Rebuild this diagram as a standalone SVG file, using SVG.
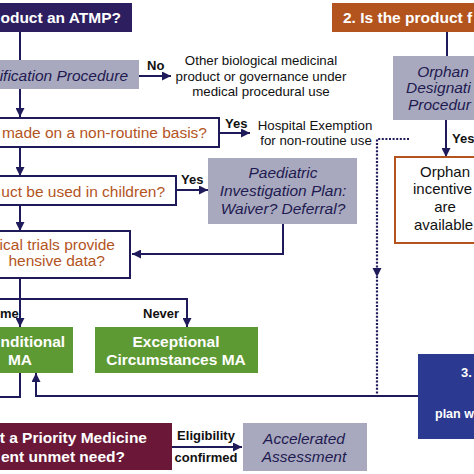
<svg xmlns="http://www.w3.org/2000/svg" width="474" height="474" viewBox="0 0 474 474">
<defs>
<marker id="ah" markerWidth="10" markerHeight="9" refX="9" refY="4.5" orient="auto" markerUnits="userSpaceOnUse"><path d="M0,0 L9,4.5 L0,9 z" fill="#1f1a5a"/></marker>
</defs>
<style>
text{font-family:"Liberation Sans",Arial,sans-serif;font-size:15.5px;}
.b{font-weight:bold;}
.w{fill:#ffffff;}
.i{font-style:italic;fill:#1f1a50;}
.o{fill:#b3541e;}
.k{fill:#111111;font-size:13.3px;}
.kb{fill:#111111;font-size:13px;font-weight:bold;}
.ln{fill:none;stroke:#1f1a5a;stroke-width:2;}
.dot{fill:none;stroke:#1f1a5a;stroke-width:2.2;stroke-dasharray:2 1.6;}
.q{fill:#ffffff;stroke:#1f1a5a;stroke-width:2;}
.g{fill:#a8a9bf;}
.gr{fill:#5e9a33;}
.oi{fill:#111111;font-size:15px;}
</style>
<rect width="474" height="474" fill="#ffffff"/>

<g id="connectors">
<path class="ln" d="M20,32 V60"/>
<path class="ln" d="M20,89 V117" marker-end="url(#ah)"/>
<path class="ln" d="M139,76 H171" marker-end="url(#ah)"/>
<path class="ln" d="M219,133 H250" marker-end="url(#ah)"/>
<path class="ln" d="M20,147 V176" marker-end="url(#ah)"/>
<path class="ln" d="M176,190 H208" marker-end="url(#ah)"/>
<path class="ln" d="M20,205 V231" marker-end="url(#ah)"/>
<path class="ln" d="M283,224 V254 H132" marker-end="url(#ah)"/>
<path class="ln" d="M20,278 V327" marker-end="url(#ah)"/>
<path class="ln" d="M0,299 H187 V327" marker-end="url(#ah)"/>
<path class="ln" d="M20,373 V397 H0"/>
<path class="ln" d="M418,396 H36 V373" marker-end="url(#ah)"/>
<path class="ln" d="M447,32 V56"/>
<path class="ln" d="M446,120 V157" marker-end="url(#ah)"/>
<path class="dot" d="M409,139 H377 V396"/>
<path d="M372.5,268 L381.5,268 L377,277 z" fill="#1f1a5a"/>
<path class="ln" d="M172,447 H242" marker-end="url(#ah)"/>
<text class="kb" x="147" y="70">No</text>
<text class="kb" x="225" y="128">Yes</text>
<text class="kb" x="181" y="184">Yes</text>
<text class="kb" x="452" y="143">Yes</text>
<text class="kb" x="0" y="318">me</text>
<text class="kb" x="143" y="318">Never</text>
<text class="kb" x="206" y="440" text-anchor="middle">Eligibility</text>
<text class="kb" x="206" y="462" text-anchor="middle">confirmed</text>
</g>

<g id="q1">
<rect x="-2" y="3" width="134" height="29" fill="#2d1e5f"/>
<text class="b w" x="121" y="22.5" text-anchor="end">oduct an ATMP?</text>
</g>

<g id="classification">
<rect x="-2" y="60" width="141" height="29" class="g"/>
<text class="i" x="128" y="81" text-anchor="end">ification Procedure</text>
</g>

<g id="other-bio">
<text class="k" x="261" y="65" text-anchor="middle">Other biological medicinal</text>
<text class="k" x="261" y="81" text-anchor="middle">product or governance under</text>
<text class="k" x="261" y="96" text-anchor="middle">medical procedural use</text>
</g>

<g id="q-nonroutine">
<rect x="-2" y="118" width="221" height="29" class="q"/>
<text class="o" x="207" y="138" text-anchor="end">made on a non-routine basis?</text>
</g>

<g id="hospital-exemption">
<text class="k" x="315" y="130" text-anchor="middle">Hospital Exemption</text>
<text class="k" x="316" y="145" text-anchor="middle">for non-routine use</text>
</g>

<g id="q-children">
<rect x="-2" y="176" width="178" height="29" class="q"/>
<text class="o" x="165" y="196.5" text-anchor="end">uct be used in children?</text>
</g>

<g id="pip">
<rect x="208" y="158" width="149" height="66" class="g"/>
<text class="i" x="283" y="178" text-anchor="middle">Paediatric</text>
<text class="i" x="283" y="196" text-anchor="middle">Investigation Plan:</text>
<text class="i" x="283" y="214" text-anchor="middle">Waiver? Deferral?</text>
</g>

<g id="q-trials">
<rect x="-2" y="231" width="132" height="47" class="q"/>
<text class="o" x="115" y="250" text-anchor="end">ical trials provide</text>
<text class="o" x="105" y="266" text-anchor="end">hensive data?</text>
</g>

<g id="conditional">
<rect x="-2" y="327" width="75" height="46" class="gr"/>
<text class="b w" x="0.5" y="347">nditional</text>
<text class="b w" x="20" y="365" text-anchor="middle">MA</text>
</g>

<g id="exceptional">
<rect x="95" y="327" width="163" height="46" class="gr"/>
<text class="b w" x="176" y="347" text-anchor="middle">Exceptional</text>
<text class="b w" x="176" y="365" text-anchor="middle">Circumstances MA</text>
</g>

<g id="q2">
<rect x="332" y="3" width="144" height="29" fill="#b3541e"/>
<text class="b w" x="343" y="22.5">2. Is the product f</text>
</g>

<g id="orphan-designation">
<rect x="393" y="56" width="83" height="64" class="g"/>
<text class="i" x="443" y="77" text-anchor="middle">Orphan</text>
<text class="i" x="406" y="93">Designati</text>
<text class="i" x="408" y="110">Procedur</text>
</g>

<g id="orphan-incentives">
<rect x="395" y="157" width="82" height="86" fill="#ffffff" stroke="#b3541e" stroke-width="2"/>
<text class="oi" x="445" y="177" text-anchor="middle">Orphan</text>
<text class="oi" x="413" y="194">incentive</text>
<text class="oi" x="445" y="212" text-anchor="middle">are</text>
<text class="oi" x="414" y="230">available</text>
</g>

<g id="q3">
<rect x="418" y="354" width="58" height="85" fill="#2b3990"/>
<text class="b w" x="461" y="377" style="font-size:13px">3.</text>
<text class="b w" x="435" y="418" style="font-size:12.5px">plan w</text>
</g>

<g id="priority">
<rect x="-2" y="423" width="174" height="47" fill="#6b1737"/>
<text class="b w" x="147" y="443" text-anchor="end">t a Priority Medicine</text>
<text class="b w" x="125" y="462" text-anchor="end">ent unmet need?</text>
</g>

<g id="accelerated">
<rect x="243" y="423" width="124" height="48" class="g"/>
<text class="i" x="304" y="444" text-anchor="middle">Accelerated</text>
<text class="i" x="304" y="462" text-anchor="middle">Assessment</text>
</g>
</svg>
